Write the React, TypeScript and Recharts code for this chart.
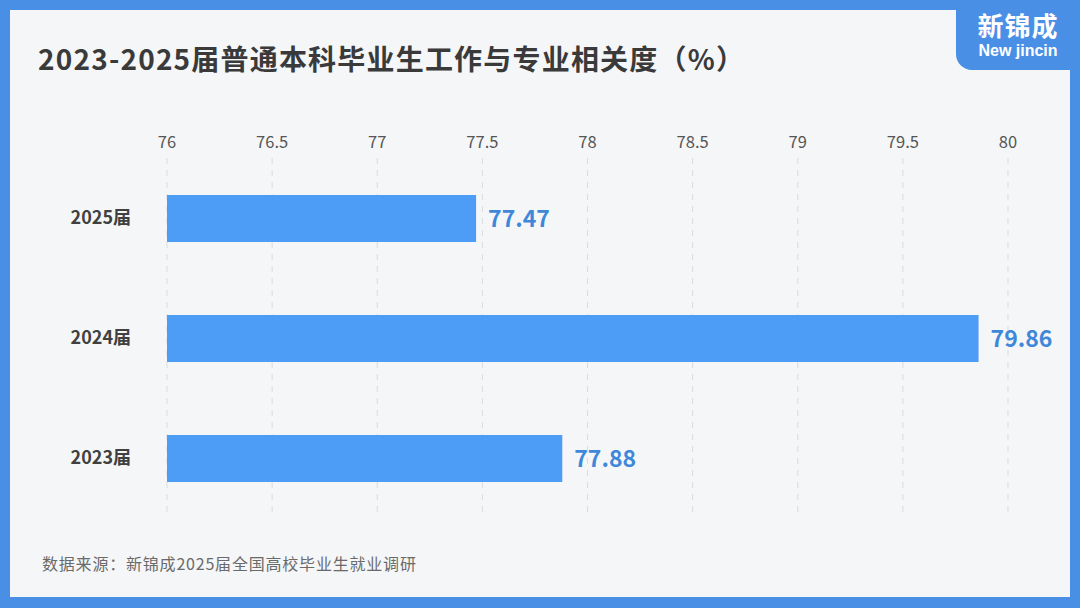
import { BarChart, Bar, XAxis, YAxis, CartesianGrid, LabelList } from 'recharts';

const cohorts = ['2025届', '2024届', '2023届'];
const relevance = [77.47, 79.86, 77.88];
const xTicks = [76, 76.5, 77, 77.5, 78, 78.5, 79, 79.5, 80];

const data = cohorts.map((c, i) => ({ cohort: c, value: relevance[i] }));

const BLUE = '#4a8fe6';
const FONT = '"Noto Sans CJK SC", "Noto Sans", sans-serif';

export default function App() {
  return (
    <div
      style={{
        position: 'fixed',
        left: 0,
        top: 0,
        width: 1080,
        height: 608,
        background: BLUE,
        fontFamily: FONT,
        overflow: 'hidden',
      }}
    >
      <div
        style={{
          position: 'absolute',
          left: 10,
          top: 10,
          width: 1060,
          height: 587,
          background: '#f5f6f8',
        }}
      />
      {/* logo tab */}
      <div
        style={{
          position: 'absolute',
          right: 0,
          top: 0,
          width: 124,
          height: 70,
          background: BLUE,
          borderBottomLeftRadius: 16,
          color: '#fff',
        }}
      >
        <div
          style={{
            position: 'absolute',
            left: 0,
            right: 0,
            top: 11,
            textAlign: 'center',
            fontSize: 26,
            fontWeight: 700,
            lineHeight: '28px',
            letterSpacing: 1,
          }}
        >
          新锦成
        </div>
        <div
          style={{
            position: 'absolute',
            left: 0,
            right: 0,
            top: 43,
            textAlign: 'center',
            fontSize: 16,
            fontWeight: 700,
            lineHeight: '15px',
            fontFamily: '"Liberation Sans", Arial, sans-serif',
          }}
        >
          New jincin
        </div>
      </div>
      <div
        style={{
          position: 'absolute',
          left: 38,
          top: 38,
          fontSize: 28,
          fontWeight: 700,
          color: '#3a3a3a',
          letterSpacing: 1.2,
          lineHeight: '40px',
          whiteSpace: 'nowrap',
        }}
      >
        2023-2025届普通本科毕业生工作与专业相关度（%）
      </div>
      <div style={{ position: 'absolute', left: 0, top: 0 }}>
        <BarChart
          width={1080}
          height={608}
          data={data}
          layout="vertical"
          margin={{ top: 126, right: 72, bottom: 90, left: 30 }}
        >
          <CartesianGrid horizontal={false} stroke="#d9dbdf" strokeDasharray="6 6" />
          <XAxis
            type="number"
            orientation="top"
            domain={[76, 80]}
            ticks={xTicks}
            axisLine={false}
            tickLine={false}
            tickMargin={4}
            height={32}
            tick={{ fill: '#555', fontSize: 16.5, fontFamily: FONT }}
          />
          <YAxis
            type="category"
            dataKey="cohort"
            width={137}
            axisLine={false}
            tickLine={false}
            tickMargin={30}
            tick={{ fill: '#404040', fontSize: 18, fontWeight: 700, fontFamily: FONT }}
          />
          <Bar dataKey="value" fill="#4d9cf5" barSize={47} isAnimationActive={false}>
            <LabelList
              dataKey="value"
              position="right"
              offset={12}
              fill="#3f88d9"
              fontSize={23}
              fontWeight={700}
              fontFamily={FONT}
            />
          </Bar>
        </BarChart>
      </div>
      <div
        style={{
          position: 'absolute',
          left: 42,
          top: 551,
          fontSize: 16,
          color: '#6a6a6a',
          lineHeight: '24px',
          letterSpacing: 0.8,
          whiteSpace: 'nowrap',
        }}
      >
        数据来源：新锦成2025届全国高校毕业生就业调研
      </div>
    </div>
  );
}
